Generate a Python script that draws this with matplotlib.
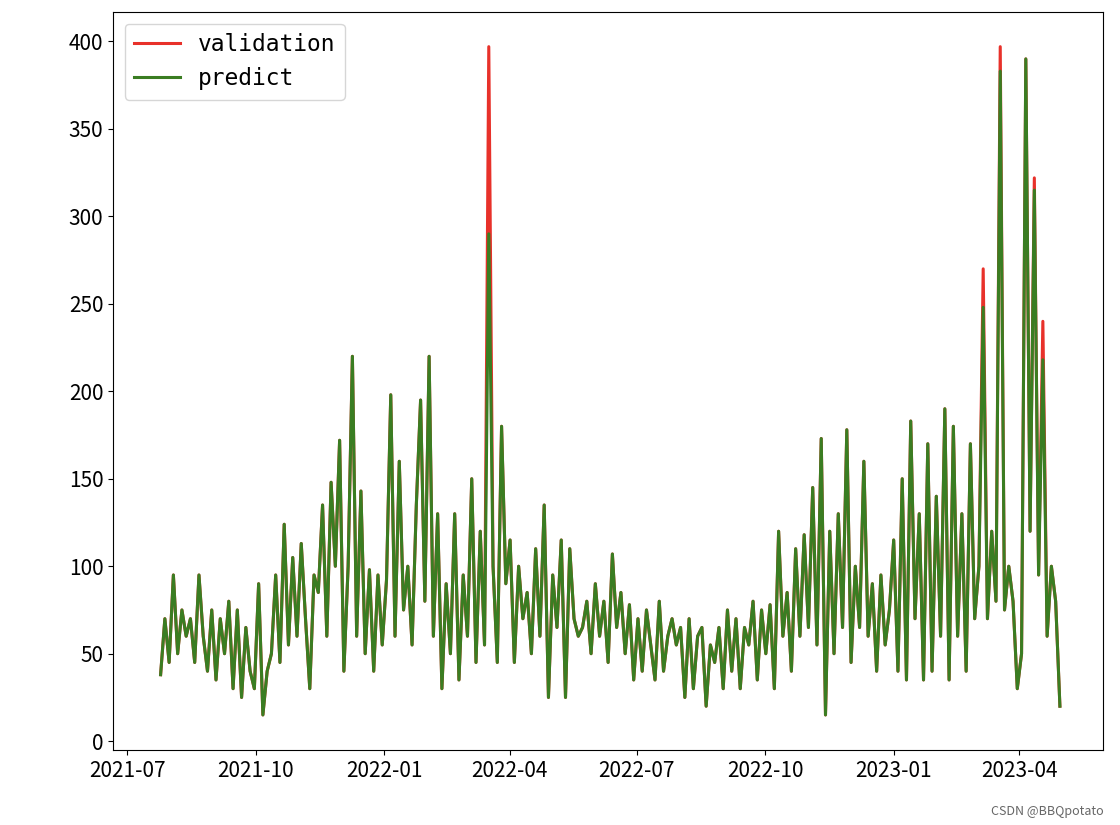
import matplotlib.pyplot as plt
import pandas as pd

plt.rcParams['font.family'] = ['Noto Sans CJK SC', 'DejaVu Sans']

start_date = '2021-07-25'
end_date = '2023-04-30'

validation = [
    38, 70, 45,
    95, 50, 75, 60, 70, 45, 95, 60, 40, 75,
    35, 70, 50, 80, 30, 75, 25, 65, 40, 30,
    90, 15, 40, 50, 95, 45, 124, 55, 105, 60,
    113, 70, 30, 95, 85, 135, 60, 148, 100, 172,
    40, 100, 220, 60, 143, 50, 98, 40, 95, 55,
    92, 198, 60, 160, 75, 100, 55, 135, 195, 80,
    220, 60, 130, 30, 90, 50, 130, 35, 95,
    60, 150, 45, 120, 55, 397, 100, 45, 180, 90,
    115, 45, 100, 70, 85, 50, 110, 60, 135, 25,
    95, 65, 115, 25, 110, 70, 60, 65, 80, 50,
    90, 60, 80, 45, 107, 65, 85, 50, 78, 35,
    70, 40, 75, 55, 35, 80, 40, 60, 70, 55,
    65, 25, 70, 30, 60, 65, 20, 55, 45, 65,
    30, 75, 40, 70, 30, 65, 55, 80, 35, 75,
    50, 78, 30, 120, 60, 85, 40, 110, 60, 118,
    65, 145, 55, 173, 15, 120, 50, 130, 65, 178,
    45, 100, 65, 160, 60, 90, 40, 95, 55, 75,
    115, 40, 150, 35, 183, 70, 130, 35, 170, 40,
    140, 60, 190, 35, 180, 60, 130, 40, 170,
    70, 100, 270, 70, 120, 80, 397, 75, 100, 80,
    30, 50, 390, 120, 322, 95, 240, 60, 100, 80,
    20,
]

# predict follows validation except at the peaks
predict_peaks = {77: 290, 193: 248, 197: 383, 205: 315, 207: 218, 203: 390}
predict = [predict_peaks.get(i, v) for i, v in enumerate(validation)]

dates = pd.date_range(start_date, end_date, periods=len(validation))

fig, ax = plt.subplots(figsize=(11.2, 8.25), dpi=100)
fig.subplots_adjust(left=0.101, right=0.985, top=0.985, bottom=0.091)
ax.plot(dates, validation, color='#e8312a', lw=2.2, label='validation')
ax.plot(dates, predict, color='#3a7d22', lw=2.2, label='predict')
ax.set_ylim(-5, 416.6)
ax.set_yticks([0, 50, 100, 150, 200, 250, 300, 350, 400])
ax.set_xticks(pd.to_datetime(['2021-07-01', '2021-10-01', '2022-01-01', '2022-04-01',
                              '2022-07-01', '2022-10-01', '2023-01-01', '2023-04-01']))
ax.set_xticklabels(['2021-07', '2021-10', '2022-01', '2022-04',
                    '2022-07', '2022-10', '2023-01', '2023-04'])
ax.set_xlim(pd.Timestamp('2021-06-21'), pd.Timestamp('2023-05-31'))
ax.tick_params(labelsize=15)
ax.legend(loc='upper left', prop={'family': 'DejaVu Sans Mono', 'size': 16.5})
fig.text(0.985, 0.012, 'CSDN @BBQpotato', ha='right', fontsize=9, color='#666666')
plt.savefig('out.png')
